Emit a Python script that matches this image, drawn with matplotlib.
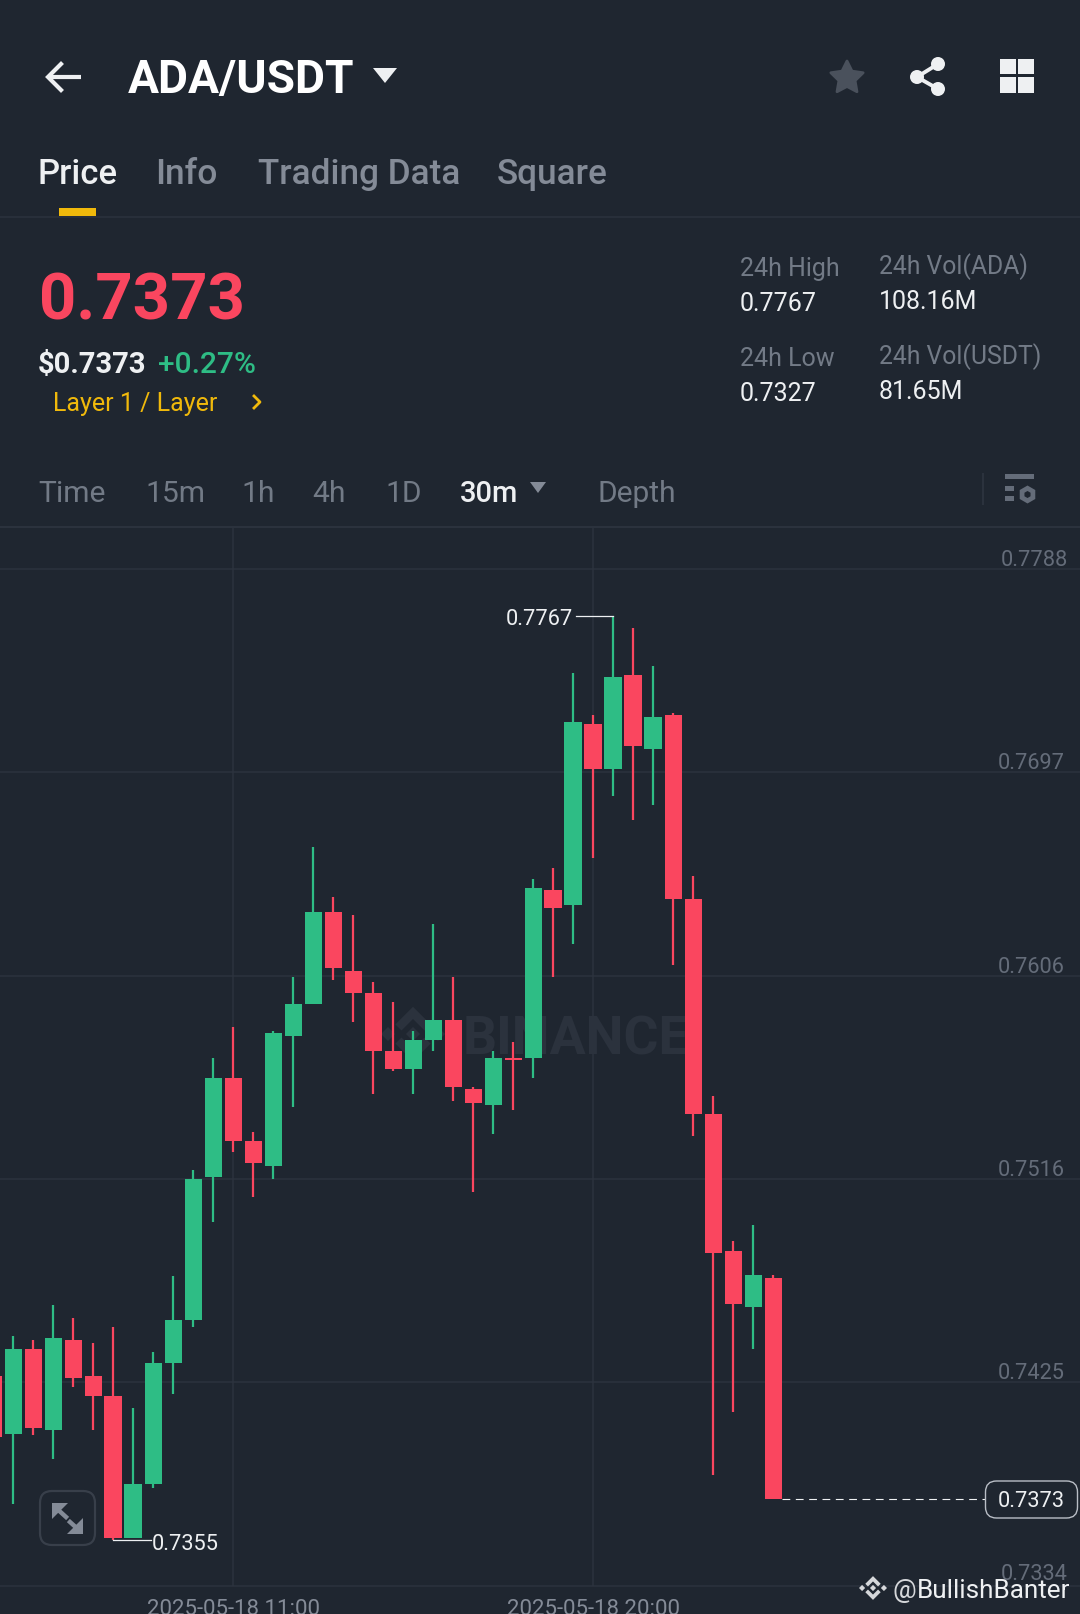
# ADA/USDT 30m candles - app screenshot style
import matplotlib
matplotlib.use("Agg")
import matplotlib.pyplot as plt
from matplotlib.patches import Polygon, FancyBboxPatch, Rectangle, Circle
import numpy as np

plt.rcParams["font.family"] = ["Roboto", "DejaVu Sans"]

BG = "#1f2630"
GRID = "#2c333e"
UP = "#2ebd85"
DOWN = "#fa465f"
DIM = "#646c79"
MID = "#727a86"
GREY = "#848b97"
WHITE = "#eef0f2"
YELLOW = "#f0b90b"

# Candles, oldest first (first one is cut off at the left edge)
opens = [0.74279, 0.74020, 0.74400, 0.74039, 0.74440, 0.74279, 0.74190, 0.73559, 0.73799, 0.74340,
         0.74530, 0.75170, 0.75609, 0.75329, 0.75219, 0.75799, 0.75939, 0.76349, 0.76089, 0.75989,
         0.75729, 0.75650, 0.75780, 0.75869, 0.75560, 0.75490, 0.75699, 0.75699, 0.76449, 0.76381,
         0.77190, 0.76989, 0.77410, 0.77079, 0.77230, 0.76409, 0.75449, 0.74839, 0.74590, 0.74719]
highs = [0.74303, 0.74458, 0.74440, 0.74599, 0.74538, 0.74429, 0.74498, 0.74139, 0.74389, 0.74728,
         0.75200, 0.75699, 0.75839, 0.75369, 0.75820, 0.76059, 0.76639, 0.76419, 0.76339, 0.76038,
         0.75948, 0.75820, 0.76299, 0.76059, 0.75569, 0.75729, 0.75769, 0.76499, 0.76549, 0.77419,
         0.77230, 0.77670, 0.77619, 0.77448, 0.77239, 0.76510, 0.75532, 0.74884, 0.74953, 0.74730]
lows = [0.73977, 0.73709, 0.74019, 0.73910, 0.74230, 0.74039, 0.73550, 0.73559, 0.73779, 0.74200,
        0.74500, 0.74969, 0.75281, 0.75080, 0.75159, 0.75479, 0.75939, 0.76049, 0.75860, 0.75539,
        0.75640, 0.75539, 0.75729, 0.75509, 0.75100, 0.75359, 0.75469, 0.75610, 0.76059, 0.76209,
        0.76590, 0.76868, 0.76760, 0.76828, 0.76114, 0.75353, 0.73840, 0.74118, 0.74401, 0.73730]
closes = [0.74010, 0.74400, 0.74050, 0.74449, 0.74270, 0.74190, 0.73559, 0.73799, 0.74338, 0.74529,
          0.75159, 0.75609, 0.75329, 0.75229, 0.75810, 0.75939, 0.76349, 0.76100, 0.75991, 0.75731,
          0.75650, 0.75780, 0.75869, 0.75570, 0.75500, 0.75699, 0.75690, 0.76459, 0.76369, 0.77198,
          0.76989, 0.77399, 0.77090, 0.77219, 0.76409, 0.75449, 0.74829, 0.74600, 0.74730, 0.73730]

grid_prices = [0.77881, 0.76974, 0.76067, 0.75160, 0.74252, 0.73345]
grid_labels = ["0.7788", "0.7697", "0.7606", "0.7516", "0.7425", "0.7334"]
time_ticks = [11, 29]
time_labels = ["2025-05-18 11:00", "2025-05-18 20:00"]
high_idx, high_price = 30, 0.7767
low_idx, low_price = 5, 0.7355
last_price = 0.7373

W, H = 1080, 1615
fig = plt.figure(figsize=(W / 100, H / 100), dpi=100, facecolor=BG)

# price axes, lined up with the screen region of the chart
ax = fig.add_axes([0, (H - 1586.7) / H, 1, (1586.7 - 529) / H], zorder=1)
ax.set_facecolor("none")
ax.set_xlim(-0.665, 53.335)
ax.set_ylim(0.73345, 0.78064)
for s in ax.spines.values():
    s.set_visible(False)

# overlay in screen pixels for the app chrome
ui = fig.add_axes([0, 0, 1, 1], zorder=2)
ui.set_xlim(0, W)
ui.set_ylim(H, 0)
ui.axis("off")


def txt(x, y, s, size, color=GREY, weight="normal", ha="left"):
    return ui.text(x, y, s, fontsize=size, color=color, fontweight=weight, ha=ha, va="baseline")


def logo(target, cx, cy, r, color, trans=None):
    # binance diamond: two chevrons, two side dots, one centre dot
    trans = trans if trans is not None else target.transData
    parts = [
        [(-.55, -.30), (0, -.85), (.55, -.30), (.36, -.11), (0, -.47), (-.36, -.11)],
        [(-.55, .30), (0, .85), (.55, .30), (.36, .11), (0, .47), (-.36, .11)],
        [(-1, 0), (-.78, -.22), (-.56, 0), (-.78, .22)],
        [(1, 0), (.78, -.22), (.56, 0), (.78, .22)],
        [(-.22, 0), (0, -.22), (.22, 0), (0, .22)],
    ]
    for p in parts:
        pts = [(cx + a * r, cy + b * r) for a, b in p]
        target.add_patch(Polygon(pts, closed=True, fc=color, ec="none", transform=trans, clip_on=False, zorder=1))


# ---- grid
for p in grid_prices:
    ax.axhline(p, color=GRID, lw=1.1, zorder=0, clip_on=False)
for t in time_ticks:
    ax.axvline(t, color=GRID, lw=1.1, zorder=0)
ax.set_xticks(time_ticks)
ax.set_xticklabels(time_labels)
ax.set_yticks([])
ax.tick_params(axis="x", length=0, pad=9, labelsize=16, labelcolor=GREY)

# watermark behind the candles
logo(ax, 413, 1035, 32, "#2b323d", trans=ui.transData)
ax.text(463, 1055, "BINANCE", fontsize=38.5, fontweight="bold", color="#2b323d", va="baseline",
        transform=ui.transData, zorder=1)

# ---- candles
idx = np.arange(-1, len(opens) - 1)
o, h, l, c = map(np.array, (opens, highs, lows, closes))
colors = [UP if cc > oo else DOWN for oo, cc in zip(o, c)]
ax.vlines(idx, l, h, colors=colors, lw=1.6, zorder=3)
ax.bar(idx, np.abs(c - o), bottom=np.minimum(o, c), width=0.88, color=colors, zorder=4)

# high / low callouts
ax.plot([high_idx, high_idx - 1.85], [high_price, high_price], color=WHITE, lw=0.9, zorder=5)
ax.annotate(f"{high_price:.4f}", (high_idx - 2.0, high_price), ha="right", va="baseline", fontsize=15.7,
            color=WHITE, xytext=(0, -8), textcoords="offset pixels")
ax.plot([low_idx, low_idx + 1.9], [low_price, low_price], color=WHITE, lw=0.9, zorder=5)
ax.annotate(f"{low_price:.4f}", (low_idx + 1.9, low_price), ha="left", va="baseline", fontsize=15.7,
            color=WHITE, xytext=(0, -9), textcoords="offset pixels")

# last price line and tag
last_i = idx[-1]
ax.plot([last_i + 0.45, 48.6], [last_price, last_price], color=WHITE, lw=0.8, ls=(0, (7, 5)), zorder=5)

# price labels over the grid lines
for p, lab in zip(grid_prices, grid_labels):
    right = 1068 if lab in ("0.7788", "0.7334") else 1065
    lift = 7 if lab == "0.7334" else 4
    ax.annotate(lab, (right / W, p), xycoords=ax.get_yaxis_transform(), ha="right", va="baseline",
                fontsize=15.7, color=DIM, xytext=(0, lift), textcoords="offset pixels", annotation_clip=False)

# ---- header
ui.plot([50, 81], [78, 78], color=WHITE, lw=3.0, solid_capstyle="butt")
ui.plot([61, 48, 61], [65, 78, 91], color=WHITE, lw=3.0, solid_joinstyle="miter")
txt(128, 93, "ADA/USDT", 33.2, "white", "bold")
ui.add_patch(Polygon([(373, 69), (397, 69), (385, 84)], fc=WHITE, ec="none"))

# star
ang = np.deg2rad(np.arange(10) * 36 - 90)
rad = np.where(np.arange(10) % 2 == 0, 17, 8.5)
ui.add_patch(Polygon(np.c_[847 + rad * np.cos(ang), 79 + rad * np.sin(ang)], fc="#4a515c", ec="#4a515c",
                     lw=2, joinstyle="round"))

# share icon
nodes = [(938, 65), (917, 78), (938, 90)]
ui.plot([n[0] for n in nodes], [n[1] for n in nodes], color=WHITE, lw=2.8)
for n in nodes:
    ui.add_patch(Circle(n, 7, fc=WHITE, ec="none"))

# four squares icon
for x0, y0, hh in [(1000, 60, 15), (1018, 60, 15), (1000, 78, 16), (1018, 78, 16)]:
    ui.add_patch(Rectangle((x0, y0), 16, hh, fc=WHITE, ec="none"))

# tabs
txt(38, 184, "Price", 25, WHITE, "medium")
txt(155, 184, "Info", 25.5, GREY, "medium")
txt(258, 184, "Trading Data", 25.3, GREY, "medium")
txt(497, 184, "Square", 25.3, GREY, "medium")
ui.add_patch(Rectangle((59, 209), 37, 8, fc=YELLOW, ec="none"))
ui.plot([0, W], [217.5, 217.5], color=GRID, lw=1.1)

# price block
txt(39, 319.5, "0.7373", 47, DOWN, "bold")
txt(38, 373, "$0.7373", 21, WHITE, "bold")
txt(158, 373, "+0.27%", 21.5, UP, "medium")
txt(53, 411, "Layer 1 / Layer", 18, YELLOW)
ui.plot([254, 260, 254], [397, 403, 409], color=YELLOW, lw=2)

# 24h stats
txt(740, 276, "24h High", 18, MID)
txt(740, 311, "0.7767", 18, WHITE)
txt(740, 366, "24h Low", 18, MID)
txt(740, 401, "0.7327", 18, WHITE)
txt(879, 274, "24h Vol(ADA)", 17.8, MID)
txt(879, 309, "108.16M", 18, WHITE)
txt(879, 364, "24h Vol(USDT)", 17.8, MID)
txt(879, 399, "81.65M", 18, WHITE)

# interval row
for x0, s in [(38, "Time"), (145, "15m"), (241, "1h"), (312, "4h"), (385, "1D"), (597, "Depth")]:
    txt(x0, 502, s, 21.6, MID)
txt(460, 502, "30m", 21, WHITE, "medium")
ui.add_patch(Polygon([(530, 483), (546, 483), (538, 494)], fc=GREY, ec="none"))
ui.plot([983, 983], [475, 505], color=GRID, lw=1.4)
ui.add_patch(Rectangle((1005, 475), 29, 5, fc=DIM, ec="none"))
ui.add_patch(Rectangle((1005, 487), 9, 5, fc=DIM, ec="none"))
ui.add_patch(Rectangle((1005, 497), 9, 5, fc=DIM, ec="none"))
ui.plot([1026.5], [495], marker="h", ms=9, mfc="none", mec=DIM, mew=3.4)
ui.plot([0, W], [528, 528], color=GRID, lw=1.4)

# expand button
ui.add_patch(FancyBboxPatch((47, 1499), 41, 40, boxstyle="round,pad=7,rounding_size=12",
                            fc="none", ec="#383f4a", lw=1.6))
ui.plot([55, 66], [1508, 1518], color=GREY, lw=3.2)
ui.plot([70, 80], [1523, 1532], color=GREY, lw=3.2)
ui.add_patch(Polygon([(52, 1504), (68, 1504), (52, 1520)], fc=GREY, ec="none"))
ui.add_patch(Polygon([(83, 1535), (67, 1535), (83, 1519)], fc=GREY, ec="none"))

# last price tag
ui.add_patch(FancyBboxPatch((993.5, 1490), 76, 21, boxstyle="round,pad=8,rounding_size=11",
                            fc=BG, ec="#b9bec6", lw=1))
txt(1031.5, 1507.5, "0.7373", 15.7, WHITE, ha="center")

# author stamp
logo(ui, 873, 1589, 14, "#d5d7da")
txt(892, 1598, "@", 19, "#d5d7da")
txt(917, 1598, "BullishBanter", 18.8, WHITE)

fig.savefig("out.png", dpi=100, facecolor=BG)
